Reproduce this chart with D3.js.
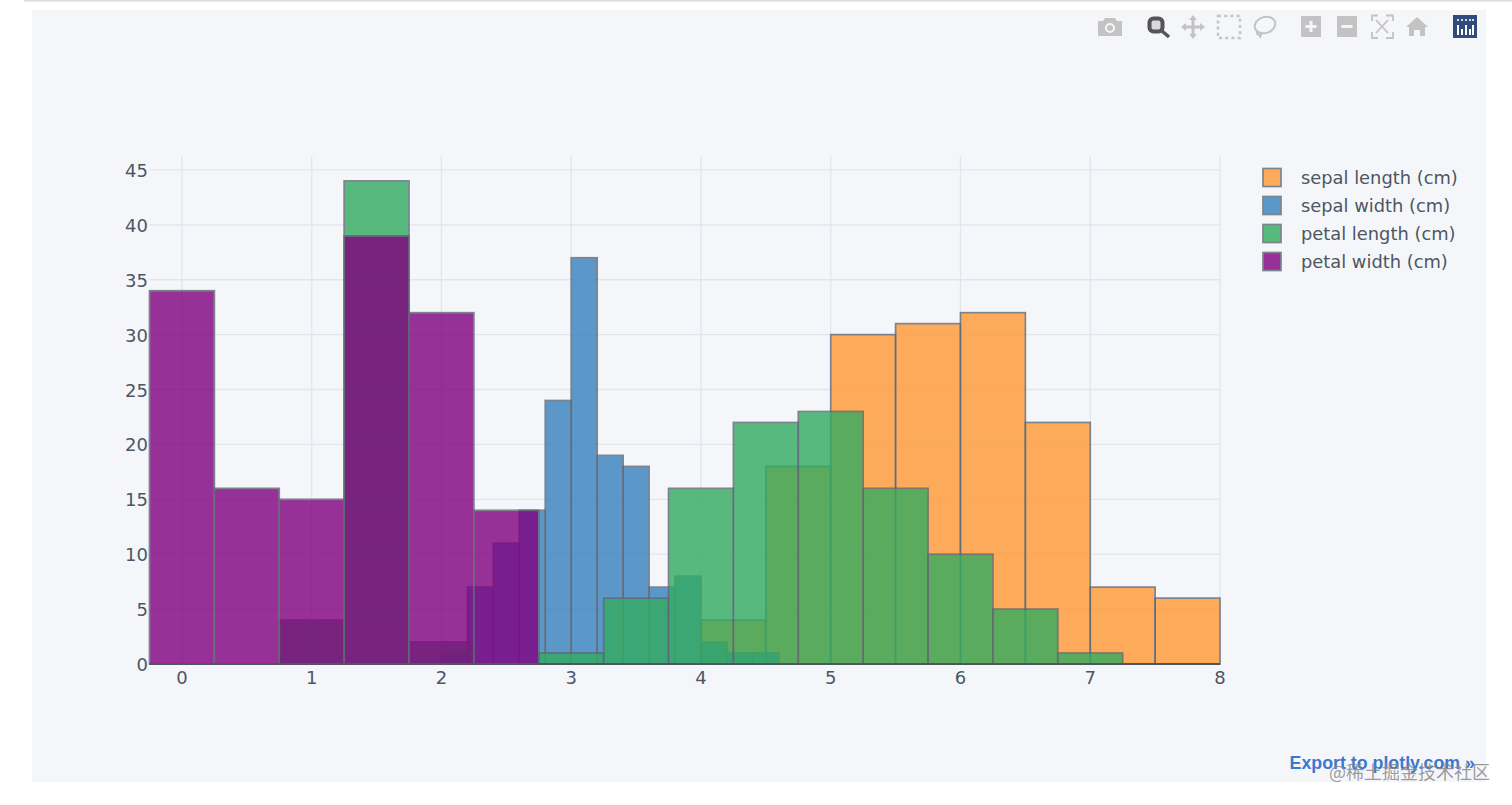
<!DOCTYPE html>
<html>
<head>
<meta charset="utf-8">
<script src="https://cdn.jsdelivr.net/npm/d3@7"></script>
<style>
html,body{margin:0;padding:0;background:#fff;overflow:hidden}
svg{display:block}
text{font-family:"DejaVu Sans",sans-serif}
</style>
</head>
<body>
<svg id="c" width="1512" height="805"></svg>
<script>
const seriesNames = ["sepal length (cm)", "sepal width (cm)", "petal length (cm)", "petal width (cm)"];
const seriesColors = ["#ff9933", "#3780bf", "#32ab60", "#800080"];
const sepalLengthStart = [4, 4.5, 5, 5.5, 6, 6.5, 7, 7.5];
const sepalLengthCount = [4, 18, 30, 31, 32, 22, 7, 6];
const sepalLengthBin = 0.5;
const sepalWidthStart = [2, 2.2, 2.4, 2.6, 2.8, 3, 3.2, 3.4, 3.6, 3.8, 4, 4.2, 4.4];
const sepalWidthCount = [1, 7, 11, 14, 24, 37, 19, 18, 7, 8, 2, 1, 1];
const sepalWidthBin = 0.2;
const petalLengthStart = [0.75, 1.25, 1.75, 2.75, 3.25, 3.75, 4.25, 4.75, 5.25, 5.75, 6.25, 6.75];
const petalLengthCount = [4, 44, 2, 1, 6, 16, 22, 23, 16, 10, 5, 1];
const petalLengthBin = 0.5;
const petalWidthStart = [-0.25, 0.25, 0.75, 1.25, 1.75, 2.25];
const petalWidthCount = [34, 16, 15, 39, 32, 14];
const petalWidthBin = 0.5;
const xTicks = [0, 1, 2, 3, 4, 5, 6, 7, 8];
const yTicks = [0, 5, 10, 15, 20, 25, 30, 35, 40, 45];

const series = [
  {start: sepalLengthStart, count: sepalLengthCount, bin: sepalLengthBin},
  {start: sepalWidthStart, count: sepalWidthCount, bin: sepalWidthBin},
  {start: petalLengthStart, count: petalLengthCount, bin: petalLengthBin},
  {start: petalWidthStart, count: petalWidthCount, bin: petalWidthBin}
];

const svg = d3.select("#c");
const ink = "#4d5663", edge = "#5f6874", grid = "#e1e5ed", bg = "#f5f6f9";

svg.append("rect").attr("x", 24).attr("y", 0).attr("width", 1488).attr("height", 1.5).attr("fill", "#dcdcdc");
svg.append("rect").attr("x", 32).attr("y", 10).attr("width", 1454).attr("height", 772).attr("fill", bg);

const x = d3.scaleLinear().domain([-0.25, 8]).range([149.5, 1220]);
const y = d3.scaleLinear().domain([0, 46.27]).range([664, 156]);

// grid
svg.append("g").selectAll("line").data(xTicks).join("line")
  .attr("x1", d => x(d)).attr("x2", d => x(d)).attr("y1", y(0)).attr("y2", y.range()[1])
  .attr("stroke", grid).attr("stroke-width", 1.3);
svg.append("g").selectAll("line").data(yTicks.filter(d => d > 0)).join("line")
  .attr("x1", x.range()[0]).attr("x2", x.range()[1]).attr("y1", d => y(d)).attr("y2", d => y(d))
  .attr("stroke", grid).attr("stroke-width", 1.3);

// bars
series.forEach((s, i) => {
  const g = svg.append("g");
  g.selectAll("rect").data(s.start.map((v, j) => ({x0: v, x1: v + s.bin, n: s.count[j]}))).join("rect")
    .attr("x", d => x(d.x0)).attr("width", d => x(d.x1) - x(d.x0))
    .attr("y", d => y(d.n)).attr("height", d => y(0) - y(d.n))
    .attr("fill", seriesColors[i]).attr("stroke", edge).attr("stroke-width", 1.7)
    .attr("opacity", 0.8);
});

// axis base
svg.append("line").attr("x1", x.range()[0]).attr("x2", x.range()[1]).attr("y1", y(0)).attr("y2", y(0))
  .attr("stroke", ink).attr("stroke-width", 2);

// tick labels
svg.append("g").selectAll("text").data(xTicks).join("text")
  .attr("x", d => x(d)).attr("y", 684).attr("text-anchor", "middle")
  .attr("font-size", 18).attr("fill", ink).text(d => d);
svg.append("g").selectAll("text").data(yTicks).join("text")
  .attr("x", 148).attr("y", (d, i) => 664 - i * 54.8 + 6.5).attr("text-anchor", "end")
  .attr("font-size", 18).attr("fill", ink).text(d => d);

// legend
const legend = svg.append("g").selectAll("g").data(seriesNames).join("g")
  .attr("transform", (d, i) => `translate(1263,${177.5 + i * 28})`);
legend.append("rect").attr("x", 0).attr("y", -9).attr("width", 18).attr("height", 18)
  .attr("fill", (d, i) => seriesColors[i]).attr("stroke", edge).attr("stroke-width", 1.7).attr("opacity", 0.8);
legend.append("text").attr("x", 38).attr("y", 6.5).attr("font-size", 17.85).attr("fill", ink).text(d => d);

// toolbar
const bar = svg.append("g").attr("fill", "#c3c3c3");
const cam = bar.append("g").attr("transform", "translate(1110,27)");
cam.append("path").attr("d", "M-12,-6H-7L-5,-9H5L7,-6H12V9H-12Z");
cam.append("circle").attr("r", 5).attr("cy", 1).attr("fill", "#f5f6f9");
cam.append("circle").attr("r", 3).attr("cy", 1);
const zm = svg.append("g").attr("transform", "translate(1156,25)");
zm.append("rect").attr("x", -6.5).attr("y", -6.5).attr("width", 13).attr("height", 13).attr("rx", 4)
  .attr("fill", "#d8d8de").attr("stroke", "#555").attr("stroke-width", 4);
zm.append("line").attr("x1", 6).attr("y1", 6).attr("x2", 13).attr("y2", 12).attr("stroke", "#555").attr("stroke-width", 3.5);
const pan = svg.append("g").attr("transform", "translate(1193,27)").attr("stroke", "#c3c3c3").attr("fill", "#c3c3c3");
pan.append("path").attr("d", "M-9,0H9M0,-9V9").attr("stroke-width", 3);
pan.append("path").attr("d", "M-12,0L-7,-4V4ZM12,0L7,-4V4ZM0,-12L-4,-7H4ZM0,12L-4,7H4Z").attr("stroke", "none");
svg.append("rect").attr("x", 1218).attr("y", 16).attr("width", 22).attr("height", 22)
  .attr("fill", "none").attr("stroke", "#c3c3c3").attr("stroke-width", 2.5).attr("stroke-dasharray", "3 3.2");
const las = svg.append("g").attr("transform", "translate(1265,25)").attr("fill", "none").attr("stroke", "#c3c3c3").attr("stroke-width", 2);
las.append("ellipse").attr("rx", 10.5).attr("ry", 8).attr("transform", "rotate(-18)");
las.append("path").attr("d", "M-7,6C-10,9 -6,11 -4,9L-5,13");
svg.append("rect").attr("x", 1301).attr("y", 16).attr("width", 20).attr("height", 21).attr("fill", "#c3c3c3");
svg.append("path").attr("d", "M1311,21V32M1305.5,26.5H1316.5").attr("stroke", "#f5f6f9").attr("stroke-width", 3);
svg.append("rect").attr("x", 1337).attr("y", 16).attr("width", 20).attr("height", 21).attr("fill", "#c3c3c3");
svg.append("path").attr("d", "M1341.5,26.5H1352.5").attr("stroke", "#f5f6f9").attr("stroke-width", 3);
svg.append("path").attr("d", "M1372,21V15.5H1378M1386,15.5H1393V21M1393,32V38H1386M1378,38H1372V32M1376,20L1388,33M1388,20L1376,33")
  .attr("fill", "none").attr("stroke", "#c3c3c3").attr("stroke-width", 1.8);
svg.append("path").attr("d", "M1417,17L1428,27H1425V36H1420V30H1414V36H1409V27H1406Z").attr("fill", "#c3c3c3");
svg.append("rect").attr("x", 1453).attr("y", 15).attr("width", 24).attr("height", 23).attr("fill", "#2f4a7c");
svg.append("path").attr("d", "M1458,25V35M1462,29V35M1466,25V35M1470,29V35M1473,25V35")
  .attr("stroke", "#fff").attr("stroke-width", 2);
svg.append("path").attr("d", "M1458,19V21M1462,19V21M1466,19V21M1470,19V21M1473,19V21")
  .attr("stroke", "#fff").attr("stroke-width", 1.6);

// export link + watermark
svg.append("text").attr("x", 1475).attr("y", 769).attr("text-anchor", "end")
  .style("font-family", "'Liberation Sans',sans-serif")
  .attr("font-size", 17.8).attr("font-weight", 700).attr("fill", "#3d78d0").text("Export to plotly.com »");
svg.append("text").attr("x", 1490).attr("y", 779).attr("text-anchor", "end")
  .style("font-family", "'Noto Sans CJK SC',sans-serif")
  .attr("font-size", 18).attr("fill", "#8a8a8a").attr("fill-opacity", 0.85).text("@稀土掘金技术社区");
</script>
</body>
</html>
